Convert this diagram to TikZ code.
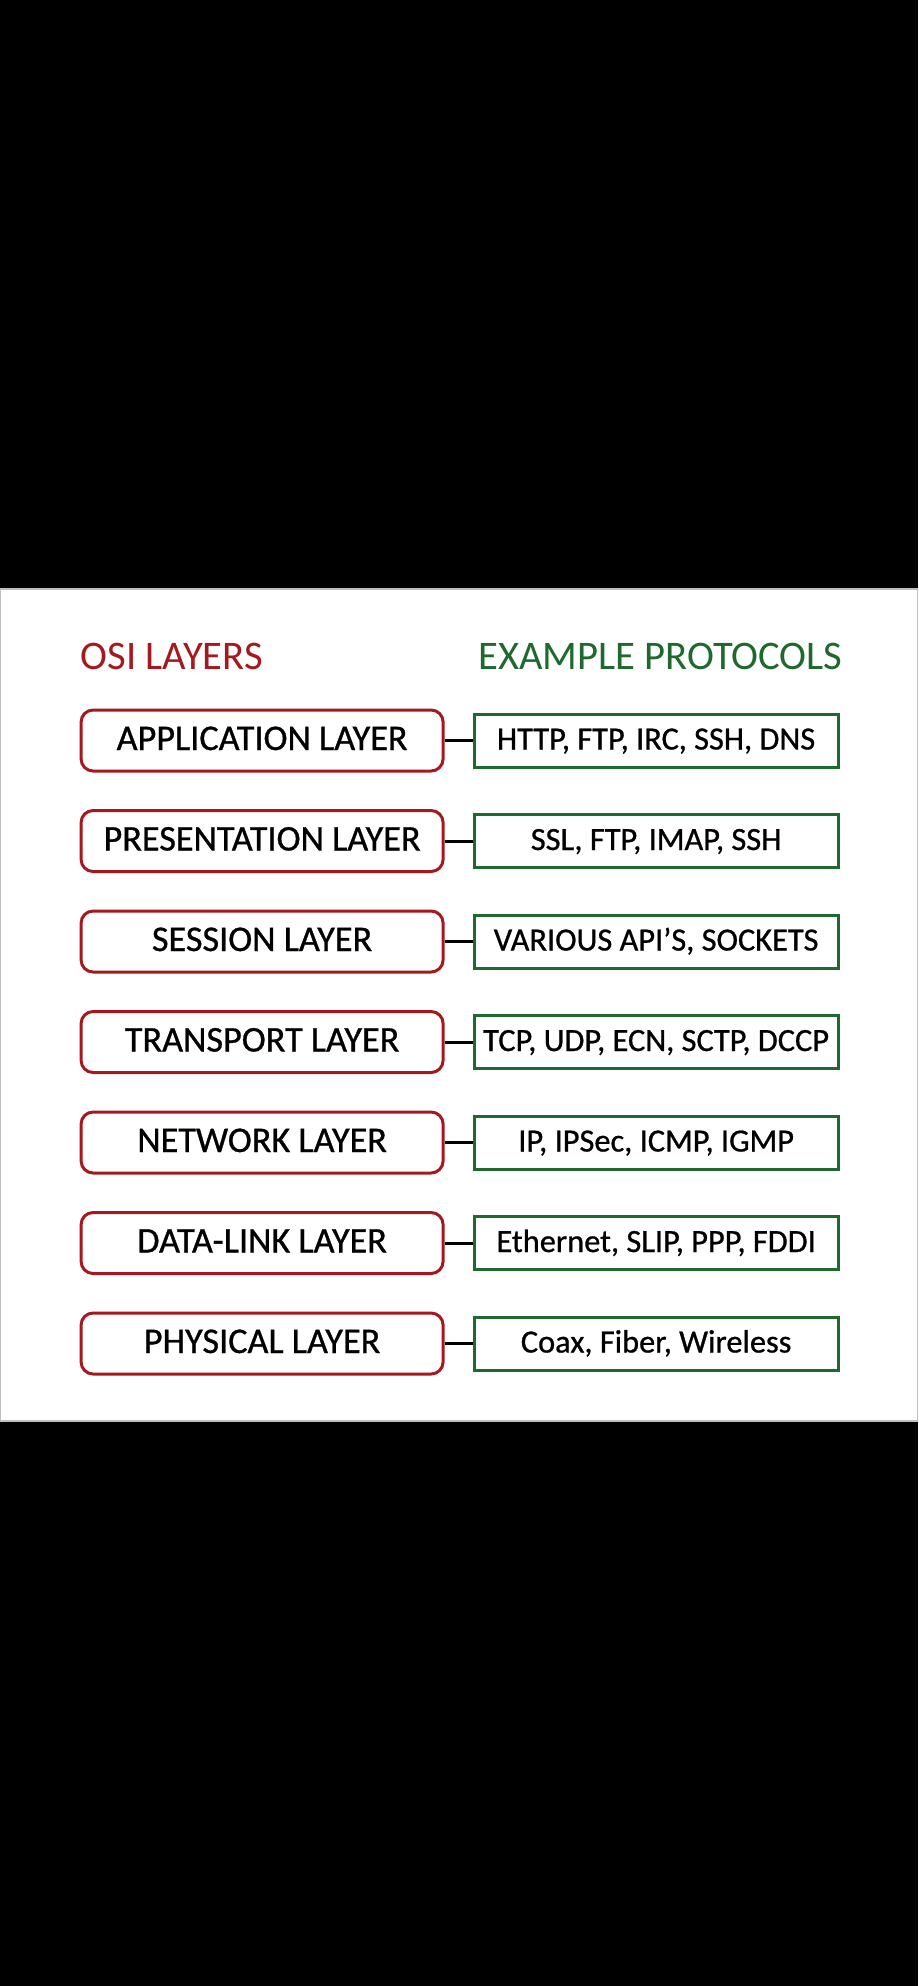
\documentclass[tikz,border=0pt]{standalone}
\usepackage{fontspec}
\setmainfont{Carlito}
\newfontfamily\boxfont[FakeBold=0.8]{Carlito}
\definecolor{osired}{RGB}{165,25,30}
\definecolor{protogreen}{RGB}{30,105,45}

\begin{document}
\begin{tikzpicture}[x=0.5pt, y=-0.5pt,
    layer/.style={draw=osired, line width=1.5pt, rounded corners=6pt, minimum width=181pt,
        minimum height=30.5pt, inner sep=0pt, text height=11.5pt, text depth=2pt,
        font=\boxfont\fontsize{18.1}{18.1}\selectfont},
    proto/.style={draw=protogreen, line width=1.5pt, minimum width=182pt,
        minimum height=26.5pt, inner sep=0pt, text height=11pt, text depth=2pt,
        font=\boxfont\fontsize{16.2}{16.2}\selectfont},
    heading/.style={anchor=base west, inner sep=0pt, font=\fontsize{20.3}{20.3}\selectfont},
    link/.style={line width=1.5pt}]
    % Background
    \fill [black] (0,0) rectangle (918,1986);
    \filldraw [fill=white, draw=gray!50, line width=0.6pt] (0.5,589) rectangle (917.5,1421);

    % Headings
    \node [heading, text=osired] (head1) at (80,669) {OSI LAYERS};
    \node [heading, text=protogreen] (head2) at (478,669) {EXAMPLE PROTOCOLS};

    % Layers and protocols
    \foreach \i/\lname/\pname in {0/APPLICATION LAYER/{HTTP, FTP, IRC, SSH, DNS},
        1/PRESENTATION LAYER/{SSL, FTP, IMAP, SSH},
        2/SESSION LAYER/{VARIOUS API’S, SOCKETS},
        3/TRANSPORT LAYER/{TCP, UDP, ECN, SCTP, DCCP},
        4/NETWORK LAYER/{IP, IPSec, ICMP, IGMP},
        5/DATA-LINK LAYER/{Ethernet, SLIP, PPP, FDDI},
        6/PHYSICAL LAYER/{Coax, Fiber, Wireless}} {
        \node [layer] (L\i) at (262,740.5+100.5*\i) {\lname};
        \node [proto] (P\i) at (656,740.5+100.5*\i) {\pname};
        \draw [link] (L\i.east) -- (P\i.west);
    }
\end{tikzpicture}
\end{document}
